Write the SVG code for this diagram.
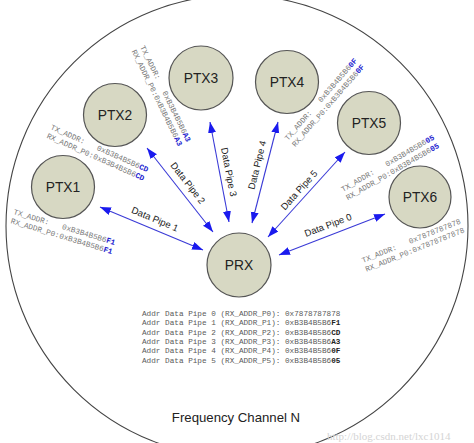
<svg xmlns="http://www.w3.org/2000/svg" width="474" height="443" viewBox="0 0 474 443">
<style>
.node circle{fill:#d7d8c3;stroke:#555;stroke-width:1.2}
.lbl{font-family:"Liberation Sans",Arial,sans-serif;font-size:13.8px;fill:#222;text-anchor:middle}
.conn line{stroke:#3a3ad6;stroke-width:1.1;marker-start:url(#ah);marker-end:url(#ah)}
.pipe{font-family:"Liberation Sans",Arial,sans-serif;font-size:9.5px;fill:#222;text-anchor:middle}
.addr{font-family:"Liberation Mono","Courier New",monospace;font-size:7.7px;fill:#7a7a7a;text-anchor:start}
.hl{fill:#2323d0;font-weight:bold}
.tbl{font-family:"Liberation Mono","Courier New",monospace;font-size:7.7px;fill:#5a5a5a}
.tb{fill:#222;font-weight:bold}
</style>
<defs>
<marker id="ah" markerUnits="userSpaceOnUse" markerWidth="12" markerHeight="9" refX="11" refY="4" orient="auto-start-reverse">
<path d="M0,0 L11,4 L0,8 z" fill="#1a1aee"/>
</marker>
</defs>
<rect width="474" height="443" fill="#fff"/>
<circle cx="237" cy="226" r="231" fill="none" stroke="#444" stroke-width="1.1"/>

<g id="connectors" class="conn">
<line x1="100" y1="207" x2="203" y2="250"/>
<line x1="147" y1="148" x2="213" y2="232"/>
<line x1="210" y1="122" x2="229" y2="222"/>
<line x1="278" y1="122" x2="252" y2="223"/>
<line x1="345" y1="152" x2="268" y2="237"/>
<line x1="385" y1="214" x2="279" y2="255"/>
</g>

<g id="pipe-labels">
<text class="pipe" transform="translate(155,219) rotate(22.7)" y="3.4">Data Pipe 1</text>
<text class="pipe" transform="translate(188,183) rotate(52)" y="3.4">Data Pipe 2</text>
<text class="pipe" transform="translate(229,172) rotate(79)" y="3.4">Data Pipe 3</text>
<text class="pipe" transform="translate(257,165) rotate(-76)" y="3.4">Data Pipe 4</text>
<text class="pipe" transform="translate(299,190) rotate(-48)" y="3.4">Data Pipe 5</text>
<text class="pipe" transform="translate(328,225) rotate(-21)" y="3.4">Data Pipe 0</text>
</g>

<g id="PTX1" class="node">
<circle cx="63" cy="187" r="31.5"/>
<text class="lbl" x="63" y="192">PTX1</text>
<text class="addr" transform="translate(13,214) rotate(17)" xml:space="preserve"><tspan x="0" y="0">TX_ADDR:   0xB3B4B5B6<tspan class="hl">F1</tspan></tspan><tspan x="0" y="9.5">RX_ADDR_P0:0xB3B4B5B6<tspan class="hl">F1</tspan></tspan></text>
</g>
<g id="PTX2" class="node">
<circle cx="115" cy="115" r="31.5"/>
<text class="lbl" x="115" y="120">PTX2</text>
<text class="addr" transform="translate(50,129) rotate(24)" xml:space="preserve"><tspan x="0" y="0">TX_ADDR:   0xB3B4B5B6<tspan class="hl">CD</tspan></tspan><tspan x="0" y="9.5">RX_ADDR_P0:0xB3B4B5B6<tspan class="hl">CD</tspan></tspan></text>
</g>
<g id="PTX3" class="node">
<circle cx="201" cy="78" r="32"/>
<text class="lbl" x="201" y="83">PTX3</text>
<text class="addr" transform="translate(140,47) rotate(64)" xml:space="preserve"><tspan x="0" y="0">TX_ADDR:   0xB3B4B5B6<tspan class="hl">A3</tspan></tspan><tspan x="0" y="9.5">RX_ADDR_P0:0xB3B4B5B6<tspan class="hl">A3</tspan></tspan></text>
</g>
<g id="PTX4" class="node">
<circle cx="287" cy="82" r="31.5"/>
<text class="lbl" x="287" y="87">PTX4</text>
<text class="addr" transform="translate(288,141) rotate(-49)" xml:space="preserve"><tspan x="0" y="0">TX_ADDR:   0xB3B4B5B6<tspan class="hl">0F</tspan></tspan><tspan x="0" y="9.5">RX_ADDR_P0:0xB3B4B5B6<tspan class="hl">0F</tspan></tspan></text>
</g>
<g id="PTX5" class="node">
<circle cx="369" cy="123" r="31.5"/>
<text class="lbl" x="369" y="128">PTX5</text>
<text class="addr" transform="translate(343,192) rotate(-30)" xml:space="preserve"><tspan x="0" y="0">TX_ADDR:   0xB3B4B5B6<tspan class="hl">05</tspan></tspan><tspan x="0" y="9.5">RX_ADDR_P0:0xB3B4B5B6<tspan class="hl">05</tspan></tspan></text>
</g>
<g id="PTX6" class="node">
<circle cx="420" cy="197" r="31"/>
<text class="lbl" x="420" y="202">PTX6</text>
<text class="addr" transform="translate(363,263) rotate(-22)" xml:space="preserve"><tspan x="0" y="0">TX_ADDR:   0x7878787878</tspan><tspan x="0" y="9.5">RX_ADDR_P0:0x7878787878</tspan></text>
</g>
<g id="PRX" class="node">
<circle cx="239" cy="265" r="32"/>
<text class="lbl" x="239" y="270">PRX</text>
</g>

<g id="table" class="tbl" xml:space="preserve">
<text x="142" y="316">Addr Data Pipe 0 (RX_ADDR_P0): 0x7878787878</text>
<text x="142" y="325.3">Addr Data Pipe 1 (RX_ADDR_P1): 0xB3B4B5B6<tspan class="tb">F1</tspan></text>
<text x="142" y="334.6">Addr Data Pipe 2 (RX_ADDR_P2): 0xB3B4B5B6<tspan class="tb">CD</tspan></text>
<text x="142" y="343.9">Addr Data Pipe 3 (RX_ADDR_P3): 0xB3B4B5B6<tspan class="tb">A3</tspan></text>
<text x="142" y="353.2">Addr Data Pipe 4 (RX_ADDR_P4): 0xB3B4B5B6<tspan class="tb">0F</tspan></text>
<text x="142" y="362.5">Addr Data Pipe 5 (RX_ADDR_P5): 0xB3B4B5B6<tspan class="tb">05</tspan></text>
</g>

<text x="236" y="422" font-family="'Liberation Sans',Arial,sans-serif" font-size="13.2" fill="#222" text-anchor="middle">Frequency Channel N</text>
<text x="327" y="440" font-family="'Liberation Serif','Times New Roman',serif" font-size="11" fill="#d4d4d4">http://blog.csdn.net/lxc1014</text>
</svg>
